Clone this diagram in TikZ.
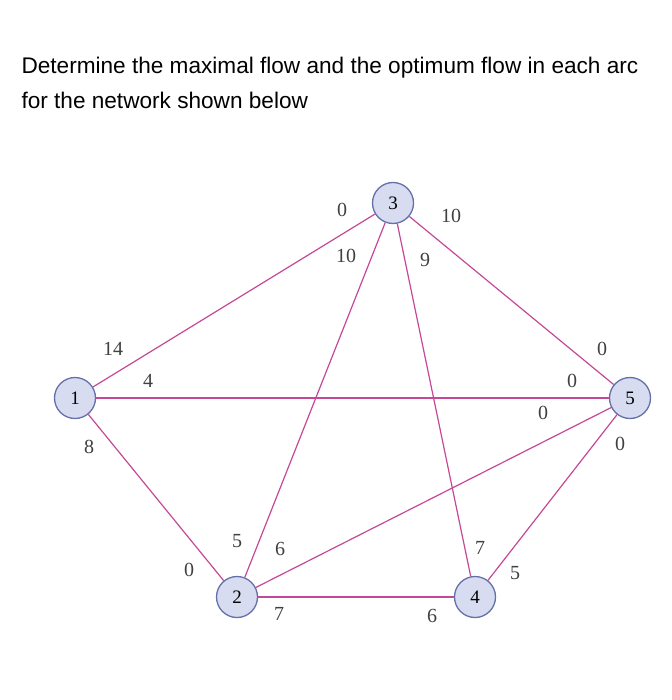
\documentclass[tikz,border=0pt]{standalone}
\usepackage{fontspec}
\setmainfont{Liberation Serif}
\newfontfamily\titlefont{Liberation Sans}
\definecolor{arccol}{RGB}{196,72,150}
\definecolor{vfill}{RGB}{216,220,240}
\definecolor{vdraw}{RGB}{100,112,170}
\begin{document}
\begin{tikzpicture}[x=1pt,y=-1pt,
  vtx/.style={circle,draw=vdraw,fill=vfill,line width=1.3pt,minimum size=41pt,inner sep=0pt,font=\fontsize{19}{19}\selectfont},
  arc/.style={draw=arccol,line width=1.2pt},
  lab/.style={font=\fontsize{20}{20}\selectfont,text=black!75},
  ttl/.style={anchor=west,font=\titlefont\fontsize{22.6}{23}\selectfont}]
\useasboundingbox (0,0) rectangle (671,700);
\node[ttl] (t1) at (18,68) {Determine the maximal flow and the optimum flow in each arc};
\node[ttl] (t2) at (18,100) {for the network shown below};
\node[vtx] (n1) at (75,398) {1};
\node[vtx] (n3) at (393,203) {3};
\node[vtx] (n5) at (630,398) {5};
\node[vtx] (n2) at (237,597) {2};
\node[vtx] (n4) at (475,597) {4};
\draw[arc] (n1)--(n3); \draw[arc] (n1)--(n5); \draw[arc] (n1)--(n2);
\draw[arc] (n3)--(n2); \draw[arc] (n3)--(n4); \draw[arc] (n3)--(n5);
\draw[arc] (n5)--(n2); \draw[arc] (n5)--(n4); \draw[arc] (n2)--(n4);
\node[lab] (a) at (342,210) {0};
\node[lab] (b) at (451,216) {10};
\node[lab] (c) at (346,256) {10};
\node[lab] (d) at (425,260) {9};
\node[lab] (e) at (113,349) {14};
\node[lab] (f) at (148,381) {4};
\node[lab] (g) at (602,349) {0};
\node[lab] (h) at (572,381) {0};
\node[lab] (i) at (543,413) {0};
\node[lab] (j) at (89,447) {8};
\node[lab] (k) at (620,444) {0};
\node[lab] (l) at (237,541) {5};
\node[lab] (m) at (280,549) {6};
\node[lab] (o) at (189,570) {0};
\node[lab] (p) at (480,548) {7};
\node[lab] (q) at (515,573) {5};
\node[lab] (r) at (279,614) {7};
\node[lab] (s) at (432,616) {6};
\end{tikzpicture}
\end{document}
